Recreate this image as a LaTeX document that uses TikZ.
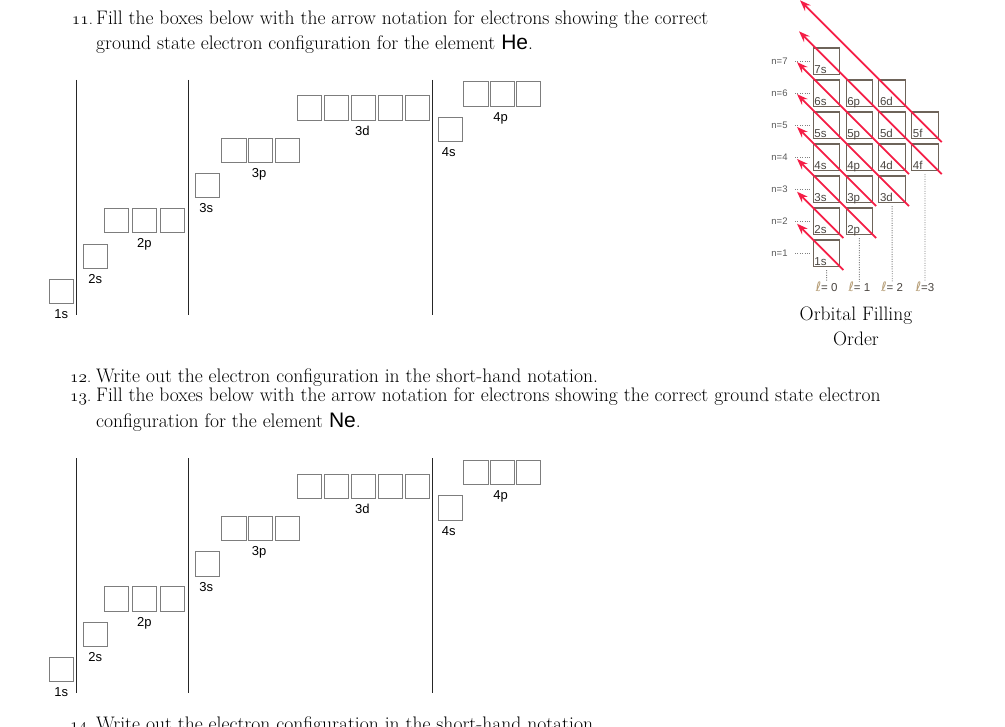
\documentclass[tikz,border=0pt]{standalone}
\usepackage{fontspec}
\newfontfamily\sansf{Liberation Sans}
\newfontfamily\dejavu{DejaVu Sans}
\usetikzlibrary{arrows.meta}
\definecolor{boxgray}{RGB}{125,125,125}
\definecolor{arrred}{RGB}{245,30,70}
\definecolor{chartbox}{RGB}{110,100,90}
\definecolor{charttext}{RGB}{75,70,65}
\definecolor{ellc}{RGB}{180,155,115}
\definecolor{nlab}{RGB}{90,90,90}
\newcommand\osn[1]{$\mathnormal{#1}$}
\tikzset{
  qtxt/.style={anchor=base west, inner sep=0pt, font=\fontsize{19.6}{22}\selectfont},
  qnum/.style={anchor=base west, inner sep=0pt, font=\fontsize{16.5}{20}\selectfont},
  ob/.style={draw=boxgray, line width=1pt, minimum size=24.5pt, inner sep=0pt},
  lab/.style={anchor=base, inner sep=0pt, font=\sansf\fontsize{13}{13}\selectfont},
  vline/.style={line width=1.3pt, draw=black!85},
  cbox/.style={draw=chartbox, line width=1.1pt, minimum size=26.5pt, inner sep=0pt},
  ctext/.style={anchor=base west, inner sep=0pt, text=charttext, font=\sansf\fontsize{11.5}{11.5}\selectfont},
  nl/.style={inner sep=0pt, text=nlab, font=\sansf\fontsize{9.5}{10}\selectfont},
  dots/.style={draw=gray, line width=0.9pt, dash pattern=on 1pt off 1.4pt},
  rarr/.style={draw=arrred, line width=1.8pt, -{Stealth[length=11pt,width=8pt]}},
  ell/.style={inner sep=0pt, text=charttext, font=\sansf\fontsize{11.5}{12}\selectfont},
}
\newcommand\orbdiag[1]{%
  \coordinate (#1-v1t) at (76.7,80); \coordinate (#1-v1b) at (76.7,315);
  \coordinate (#1-v2t) at (188.7,80); \coordinate (#1-v2b) at (188.7,315);
  \coordinate (#1-v3t) at (432.5,80); \coordinate (#1-v3b) at (432.5,315);
  \draw[vline] (#1-v1t) -- (#1-v1b);
  \draw[vline] (#1-v2t) -- (#1-v2b);
  \draw[vline] (#1-v3t) -- (#1-v3b);
  \node[ob] (#1-1s) at (61.3,291.3) {};
  \node[ob] (#1-2s) at (95.3,256.3) {};
  \node[ob] (#1-2pa) at (116.3,220.5) {};
  \node[ob] (#1-2pb) at (144.3,220.5) {};
  \node[ob] (#1-2pc) at (172.3,220.5) {};
  \node[ob] (#1-3s) at (207.7,185.7) {};
  \node[ob] (#1-3pa) at (233.8,150.3) {};
  \node[ob] (#1-3pb) at (260.5,150.3) {};
  \node[ob] (#1-3pc) at (287.3,150.3) {};
  \node[ob] (#1-3da) at (309.3,108.2) {};
  \node[ob] (#1-3db) at (336.3,108.2) {};
  \node[ob] (#1-3dc) at (363.3,108.2) {};
  \node[ob] (#1-3dd) at (390.3,108.2) {};
  \node[ob] (#1-3de) at (417.3,108.2) {};
  \node[ob] (#1-4s) at (450.3,129.7) {};
  \node[ob] (#1-4pa) at (476.2,94) {};
  \node[ob] (#1-4pb) at (502.5,94) {};
  \node[ob] (#1-4pc) at (528.3,94) {};
  \node[lab] (#1-l1s) at ([yshift=-14.5pt]#1-1s.south) {1s};
  \node[lab] (#1-l2s) at ([yshift=-14.5pt]#1-2s.south) {2s};
  \node[lab] (#1-l2p) at ([yshift=-14.5pt]#1-2pb.south) {2p};
  \node[lab] (#1-l3s) at ([yshift=-14.5pt,xshift=-1.5pt]#1-3s.south) {3s};
  \node[lab] (#1-l3p) at ([yshift=-14.5pt,xshift=-1.5pt]#1-3pb.south) {3p};
  \node[lab] (#1-l3d) at ([yshift=-14.5pt,xshift=-1pt]#1-3dc.south) {3d};
  \node[lab] (#1-l4s) at ([yshift=-14.5pt,xshift=-1.5pt]#1-4s.south) {4s};
  \node[lab] (#1-l4p) at ([yshift=-14.5pt,xshift=-2pt]#1-4pb.south) {4p};
}
\begin{document}
\begin{tikzpicture}[x=1pt,y=-1pt]
\useasboundingbox (0,0) rectangle (1005,727);
\fill[white] (0,0) rectangle (1005,727);

% question texts
\node[qnum] (n11) at (71.7,24.3) {\osn{11}.};
\node[qtxt] (t11a) at (96,24.3) {Fill the boxes below with the arrow notation for electrons showing the correct};
\node[qtxt] (t11b) at (96,50) {ground state electron configuration for the element {\sansf\fontsize{21}{21}\selectfont He}.};
\node[qnum] (n12) at (70,383) {\osn{12}.};
\node[qtxt] (t12) at (96,383) {Write out the electron configuration in the short-hand notation.};
\node[qnum] (n13) at (70,402) {\osn{13}.};
\node[qtxt] (t13a) at (96,402) {Fill the boxes below with the arrow notation for electrons showing the correct ground state electron};
\node[qtxt] (t13b) at (96,428) {configuration for the element {\sansf\fontsize{21}{21}\selectfont Ne}.};
\node[qnum] (n14) at (70,730) {\osn{14}.};
\node[qtxt] (t14) at (96,730) {Write out the electron configuration in the short-hand notation};

% diagrams
\orbdiag{A}
\begin{scope}[shift={(0,378.3)}]
\orbdiag{B}
\end{scope}

% orbital filling chart
\foreach \n/\l/\o in {1/0/s,2/0/s,2/1/p,3/0/s,3/1/p,3/2/d,4/0/s,4/1/p,4/2/d,4/3/f,5/0/s,5/1/p,5/2/d,5/3/f,6/0/s,6/1/p,6/2/d,7/0/s}{
  \pgfmathsetmacro\cx{826.55+32.8*\l}
  \pgfmathsetmacro\cy{253.25-32*(\n-1)}
  \node[cbox] (o\n\l) at (\cx,\cy) {};
  \node[ctext] (t\n\l) at ([xshift=1.5pt,yshift=2pt]o\n\l.south west) {\n\o};
}
\foreach \n in {1,...,7}{
  \pgfmathsetmacro\cy{253.25-32*(\n-1)}
  \node[nl] (nl\n) at (779.5,\cy) {n=\n};
  \coordinate (ds\n) at (795,\cy);
  \coordinate (de\n) at (811,\cy);
  \draw[dots] (ds\n) -- (de\n);
}
% l labels and dotted verticals
\node[ell] (l0) at (826.6,286.7) {{\dejavu\color{ellc}\fontsize{13}{13}\selectfont ℓ}= 0};
\node[ell] (l1) at (859.4,286.7) {{\dejavu\color{ellc}\fontsize{13}{13}\selectfont ℓ}= 1};
\node[ell] (l2) at (892.2,286.7) {{\dejavu\color{ellc}\fontsize{13}{13}\selectfont ℓ}= 2};
\node[ell] (l3) at (925,286.7) {{\dejavu\color{ellc}\fontsize{13}{13}\selectfont ℓ}=3};
\draw[dots] ([yshift=-3pt]o10.south) -- (l0.north);
\draw[dots] ([yshift=-3pt]o21.south) -- (l1.north);
\draw[dots] ([yshift=-3pt]o32.south) -- (l2.north);
\draw[dots] ([yshift=-3pt]o43.south) -- (l3.north);

% filling-order arrows
\coordinate (tip1) at (797,223.7);
\coordinate (tip2) at (797,191.7);
\coordinate (tip3) at (797,158.9);
\coordinate (tip4) at (797,126.9);
\coordinate (tip5) at (797,94.1);
\coordinate (tip6) at (797,62.1);
\coordinate (tip7) at (799,31.3);
\coordinate (tip8) at (800,0.3);
\draw[rarr] ([shift={(3pt,-3pt)}]o10.south east) -- (tip1);
\draw[rarr] ([shift={(3pt,-3pt)}]o20.south east) -- (tip2);
\draw[rarr] ([shift={(3pt,-3pt)}]o21.south east) -- (tip3);
\draw[rarr] ([shift={(3pt,-3pt)}]o31.south east) -- (tip4);
\draw[rarr] ([shift={(3pt,-3pt)}]o32.south east) -- (tip5);
\draw[rarr] ([shift={(3pt,-3pt)}]o42.south east) -- (tip6);
\draw[rarr] ([shift={(3pt,-3pt)}]o43.south east) -- (tip7);
\draw[rarr] ([shift={(3pt,-3pt)}]o53.south east) -- (tip8);

\node[inner sep=0pt, align=center, font=\fontsize{19.5}{25}\selectfont] (ofo) at (856,326) {Orbital Filling\\Order};
\end{tikzpicture}
\end{document}
